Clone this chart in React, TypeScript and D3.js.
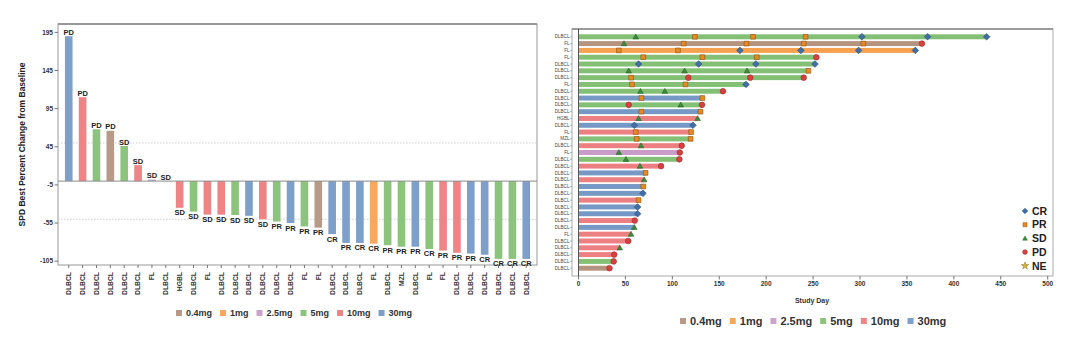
import React from "react";
import * as d3 from "d3";

// ---------- Waterfall data ----------
const wfHistology = ["DLBCL","DLBCL","DLBCL","DLBCL","DLBCL","DLBCL","FL","DLBCL","HGBL","DLBCL","FL","DLBCL","DLBCL","DLBCL","DLBCL","DLBCL","DLBCL","FL","FL","DLBCL","DLBCL","DLBCL","FL","DLBCL","MZL","DLBCL","FL","FL","DLBCL","DLBCL","DLBCL","DLBCL","DLBCL","DLBCL"];
const wfDose = ["30mg","10mg","5mg","0.4mg","5mg","10mg","2.5mg","10mg","10mg","5mg","10mg","10mg","5mg","30mg","10mg","5mg","30mg","5mg","0.4mg","30mg","30mg","30mg","1mg","5mg","5mg","30mg","5mg","10mg","10mg","30mg","30mg","5mg","5mg","30mg"];
const wfValue = [190,110,68,66,46,21,2,0,-35,-40,-44,-44,-44.5,-45.5,-50,-53,-55,-59.5,-61,-69.5,-81,-81,-82,-84,-86,-86,-89,-91,-94,-95,-96.5,-102,-102,-102];
const wfResponse = ["PD","PD","PD","PD","SD","SD","SD","SD","SD","SD","SD","SD","SD","SD","SD","PR","PR","PR","PR","CR","PR","CR","CR","PR","PR","PR","CR","PR","PR","PR","CR","CR","CR","CR"];
const wfTicks = [-105,-55,-5,45,95,145,195];
const wfRefLines = [-50,50];

// ---------- Swimmer data ----------
const swHistology = ["DLBCL","FL","FL","FL","DLBCL","DLBCL","DLBCL","FL","DLBCL","DLBCL","DLBCL","DLBCL","HGBL","DLBCL","FL","MZL","DLBCL","FL","DLBCL","DLBCL","DLBCL","DLBCL","DLBCL","DLBCL","DLBCL","DLBCL","DLBCL","DLBCL","DLBCL","FL","DLBCL","DLBCL","DLBCL","DLBCL","DLBCL"];
const swDose = ["5mg","0.4mg","1mg","5mg","5mg","5mg","5mg","5mg","5mg","30mg","5mg","30mg","10mg","30mg","10mg","5mg","10mg","2.5mg","5mg","10mg","30mg","10mg","30mg","30mg","10mg","30mg","30mg","10mg","30mg","10mg","10mg","10mg","10mg","5mg","0.4mg"];
const swEnd = [435,366,359,253.5,252,245,240,178.5,154,132,131.6,130,127,122,120,119.5,110,108,107.5,88,71.5,70,69,68.7,64,63,63,60,59.5,56,53,44,38,37.5,33];
const swEvents: [number, string][][] = [
  [[61,"SD"],[124,"PR"],[186,"PR"],[242,"PR"],[302,"CR"],[372,"CR"],[435,"CR"]],
  [[48.5,"SD"],[112,"PR"],[179,"PR"],[240,"PR"],[303.5,"PR"],[366,"PD"]],
  [[43,"PR"],[106,"PR"],[172,"CR"],[237,"CR"],[298.5,"CR"],[359,"CR"]],
  [[69,"PR"],[132,"PR"],[190,"PR"],[253.5,"PD"]],
  [[64,"CR"],[128,"CR"],[189,"CR"],[252,"CR"]],
  [[53.5,"SD"],[113,"SD"],[179.6,"SD"],[245,"PR"]],
  [[56,"PR"],[117,"PD"],[183,"PD"],[240,"PD"]],
  [[57,"PR"],[114,"PR"],[178.5,"CR"]],
  [[66,"SD"],[92,"SD"],[154,"PD"]],
  [[67,"PR"],[132,"PR"]],
  [[53.5,"PD"],[109,"SD"],[131.6,"PD"]],
  [[67,"PR"],[130,"PR"]],
  [[64,"SD"],[127,"SD"]],
  [[59.5,"CR"],[122,"CR"]],
  [[61,"PR"],[120,"PR"]],
  [[62,"PR"],[119.5,"PR"]],
  [[66.6,"SD"],[110,"PD"]],
  [[43,"SD"],[108,"PD"]],
  [[50.6,"SD"],[107.5,"PD"]],
  [[65.5,"SD"],[88,"PD"]],
  [[71.5,"PR"]],
  [[70,"SD"]],
  [[69,"PR"]],
  [[68.7,"CR"]],
  [[64,"PR"]],
  [[63,"CR"]],
  [[63,"CR"]],
  [[60,"PD"]],
  [[59.5,"SD"]],
  [[56,"SD"]],
  [[53,"PD"]],
  [[44,"SD"]],
  [[38,"PD"]],
  [[37.5,"PD"]],
  [[33,"PD"]],
];
const swTicks = [0,50,100,150,200,250,300,350,400,450,500];

const doses = ["0.4mg","1mg","2.5mg","5mg","10mg","30mg"];
const responses = ["CR","PR","SD","PD","NE"];

const doseColor = d3.scaleOrdinal<string,string>().domain(doses)
  .range(["#b89a87","#f7a85c","#cba3cb","#8cc47e","#ee8486","#7d9fc9"]);
const swDoseColor = d3.scaleOrdinal<string,string>().domain(doses)
  .range(["#b4937f","#f6a14f","#c89cc8","#83bf74","#ec7f82","#7598c4"]);
const respFill: Record<string,string> = { CR:"#3f6fa6", PR:"#e8891f", SD:"#3c8a3c", PD:"#d8403f", NE:"#d8b53a" };
const respStroke: Record<string,string> = { CR:"#2b4f7c", PR:"#8b5416", SD:"#2a6a2a", PD:"#a02a2a", NE:"#8a7020" };

const FONT = "'Liberation Sans', Arial, Helvetica, sans-serif";

// approximate Arial bold char widths (em)
const cw: Record<string, number> = { "0":0.556,"1":0.556,"2":0.556,"3":0.556,"4":0.556,"5":0.556,".":0.278,"m":0.889,"g":0.611 };
const textW = (s: string, size: number) => s.split("").reduce((a, c) => a + (cw[c] ?? 0.6), 0) * size;

function markerPath(resp: string, s: number): string {
  if (resp === "CR") return `M0,${-s}L${s},0L0,${s}L${-s},0Z`;
  if (resp === "PR") { const h = s * 0.72; return `M${-h},${-h}H${h}V${h}H${-h}Z`; }
  if (resp === "SD") { const h = s * 0.85; return `M0,${-h}L${h},${h * 0.75}L${-h},${h * 0.75}Z`; }
  if (resp === "NE") return d3.symbol(d3.symbolStar, s * s * 2.2)() as string;
  return d3.symbol(d3.symbolCircle, s * s * 2.3)() as string;
}

function DoseLegend({ x0, y, size, sq, gap, spacing }: { x0: number; y: number; size: number; sq: number; gap: number; spacing: number }) {
  let x = x0;
  const items = doses.map((d) => {
    const it = { d, x };
    x += sq + gap + textW(d, size) + spacing;
    return it;
  });
  return (
    <g>
      {items.map((it) => (
        <g key={it.d}>
          <rect x={it.x} y={y - sq / 2} width={sq} height={sq} fill={doseColor(it.d)} />
          <text x={it.x + sq + gap} y={y} dy="0.35em" fontSize={size} fontWeight="bold" fill="#333" fontFamily={FONT}>{it.d}</text>
        </g>
      ))}
    </g>
  );
}

function Waterfall() {
  const L = 58, R = 537, T = 24, B = 265;
  const x = d3.scaleBand<number>().domain(wfValue.map((_, i) => i)).range([L, R]).paddingInner(0.45).paddingOuter(0.5);
  const y = d3.scaleLinear().domain([-110, 206]).range([B, T]);
  const bw = x.bandwidth();
  return (
    <g fontFamily={FONT}>
      <rect x={L} y={T} width={R - L} height={B - T} fill="white" stroke="#999" strokeWidth={1} />
      <line x1={L} x2={R} y1={T} y2={T} stroke="#888" strokeWidth={1.6} />
      {wfRefLines.map((v) => (
        <line key={v} x1={L} x2={R} y1={y(v)} y2={y(v)} stroke="#c4c4c4" strokeWidth={0.8} strokeDasharray="1.5,1.5" />
      ))}
      {wfValue.map((v, i) => {
        const cx = (x(i) as number) + bw / 2;
        const y0 = y(0), y1 = y(v);
        return (
          <g key={i}>
            {v !== 0 && (
              <rect x={x(i)} y={Math.min(y0, y1)} width={bw} height={Math.abs(y1 - y0)} fill={doseColor(wfDose[i])} />
            )}
            <text x={cx} y={v >= 0 ? y1 - 1.5 : y1 + 7.5} textAnchor="middle" fontSize={7.5} fontWeight="bold" fill="#222">{wfResponse[i]}</text>
          </g>
        );
      })}
      <line x1={L} x2={R} y1={y(0)} y2={y(0)} stroke="#8a8a8a" strokeWidth={1} />
      {wfTicks.map((t) => (
        <g key={t}>
          <line x1={L - 3.5} x2={L} y1={y(t)} y2={y(t)} stroke="#555" strokeWidth={0.8} />
          <text x={L - 5} y={y(t)} dy="0.35em" textAnchor="end" fontSize={6.5} fontWeight="bold" fill="#333">{t}</text>
        </g>
      ))}
      {wfHistology.map((h, i) => {
        const cx = (x(i) as number) + bw / 2;
        return (
          <g key={i}>
            <line x1={cx} x2={cx} y1={B} y2={B + 3} stroke="#555" strokeWidth={0.8} />
            <text transform={`translate(${cx},${B + 7}) rotate(-90)`} dy="0.35em" textAnchor="end" fontSize={6.8} fontWeight="bold" fill="#333">{h}</text>
          </g>
        );
      })}
      <text transform={`translate(22,${(T + B) / 2}) rotate(-90)`} textAnchor="middle" dy="0.35em" fontSize={8.5} fontWeight="bold" fill="#222">SPD Best Percent Change from Baseline</text>
      <DoseLegend x0={176} y={313} size={9} sq={6} gap={4} spacing={8} />
    </g>
  );
}

function Swimmer() {
  const L = 572, R = 1053, T = 29, B = 276;
  const x = d3.scaleLinear().domain([0, 500]).range([578.5, 1047.7]);
  const y = d3.scaleBand<number>().domain(swEnd.map((_, i) => i)).range([T, B]).paddingInner(0.27).paddingOuter(0.78);
  const bh = y.bandwidth();
  return (
    <g fontFamily={FONT}>
      <rect x={L} y={T} width={R - L} height={B - T} fill="white" stroke="#aaa" strokeWidth={1} />
      <line x1={L} x2={R} y1={T} y2={T} stroke="#888" strokeWidth={1.4} />
      {swEnd.map((e, i) => (
        <rect key={i} x={x(0)} y={y(i)} width={x(e) - x(0)} height={bh} fill={swDoseColor(swDose[i])} />
      ))}
      <line x1={x(0)} x2={x(0)} y1={T} y2={B} stroke="#555" strokeWidth={1} />
      {swEvents.map((evs, i) => (
        <g key={i}>
          {evs.map(([d, r], j) => (
            <path key={j} d={markerPath(r, 3.3)} transform={`translate(${x(d)},${(y(i) as number) + bh / 2})`} fill={respFill[r]} stroke={respStroke[r]} strokeWidth={0.6} />
          ))}
        </g>
      ))}
      {swHistology.map((h, i) => (
        <g key={i}>
          <line x1={L - 2} x2={L} y1={(y(i) as number) + bh / 2} y2={(y(i) as number) + bh / 2} stroke="#777" strokeWidth={0.5} />
          <text x={L - 2.5} y={(y(i) as number) + bh / 2} dy="0.35em" textAnchor="end" fontSize={4.6} fill="#444">{h}</text>
        </g>
      ))}
      {swTicks.map((t) => (
        <g key={t}>
          <line x1={x(t)} x2={x(t)} y1={B} y2={B + 3.5} stroke="#555" strokeWidth={0.8} />
          <text x={x(t)} y={B + 10} textAnchor="middle" fontSize={6.5} fontWeight="bold" fill="#333">{t}</text>
        </g>
      ))}
      <text x={(L + R) / 2 - 0.5} y={303} textAnchor="middle" fontSize={7} fontWeight="bold" fill="#333">Study Day</text>
      {responses.map((r, i) => (
        <g key={r}>
          <path d={markerPath(r, 2.8)} transform={`translate(1025,${211 + i * 13.7})`} fill={respFill[r]} stroke={respStroke[r]} strokeWidth={0.5} />
          <text x={1032} y={211 + i * 13.7} dy="0.36em" fontSize={10.5} fontWeight="bold" fill="#222">{r}</text>
        </g>
      ))}
      <DoseLegend x0={680} y={321} size={11} sq={6} gap={4} spacing={8} />
    </g>
  );
}

export default function App() {
  return (
    <svg width={1080} height={354} style={{ position: "absolute", left: 0, top: 0, background: "white" }}>
      <rect width={1080} height={354} fill="white" />
      <Waterfall />
      <Swimmer />
    </svg>
  );
}
